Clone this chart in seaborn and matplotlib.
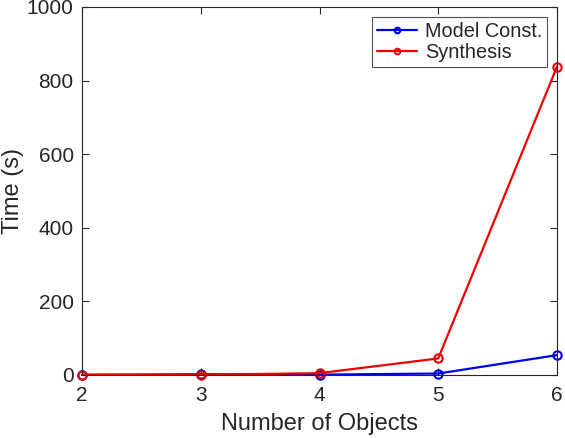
import pandas as pd
import matplotlib.pyplot as plt
from matplotlib.lines import Line2D
import seaborn as sns

objects = [2, 3, 4, 5, 6]
model_const = [0.5, 2, 1, 4, 54]
synthesis = [0.5, 0.5, 5, 45, 838]
methods = ["Model Const.", "Synthesis"]
colors = ["#0000ee", "#ee0000"]

df = pd.DataFrame({
    "Number of Objects": objects * 2,
    "Time (s)": model_const + synthesis,
    "Method": [methods[0]] * 5 + [methods[1]] * 5,
})

sns.set_style("white")
plt.rcParams['font.family'] = ['Liberation Sans', 'DejaVu Sans']

fig = plt.figure(figsize=(5.65, 4.38), dpi=100)
ax = fig.add_axes([82 / 565, 63 / 438, 475 / 565, 368 / 438])

sns.lineplot(data=df, x="Number of Objects", y="Time (s)", hue="Method",
             palette=dict(zip(methods, colors)),
             marker="o", markersize=6, markerfacecolor="none", markeredgewidth=1.5,
             linewidth=1.6, ax=ax, legend=False)
for line, c in zip(ax.lines, colors):
    line.set_markeredgecolor(c)
    line.set_clip_on(False)

ax.set_xlim(2, 6)
ax.set_ylim(0, 1000)
ax.set_xticks(objects)
ax.set_yticks([0, 200, 400, 600, 800, 1000])
ax.tick_params(direction="in", length=5, width=0.8, labelsize=15, colors="#262626",
               top=True, right=True, bottom=True, left=True)
ax.tick_params(axis="x", labeltop=False, pad=8)
ax.tick_params(axis="y", labelright=False, pad=6)
for s in ax.spines.values():
    s.set_color("#262626")
    s.set_linewidth(0.8)
ax.set_xlabel("Number of Objects", fontsize=17, color="#262626", labelpad=6)
ax.set_ylabel("Time (s)", fontsize=17, color="#262626", labelpad=2)

handles = [Line2D([], [], color=c, linewidth=1.6, marker="o", markersize=4,
                  markerfacecolor="none", markeredgewidth=1.5) for c in colors]
leg = ax.legend(handles, methods, loc="upper right", fontsize=14.3, frameon=True,
                fancybox=False, edgecolor="#262626", handlelength=2.0, borderpad=0.25,
                labelspacing=0.1, handletextpad=0.4, borderaxespad=0.5)
leg.get_frame().set_linewidth(0.8)

fig.savefig("out.png", dpi=100)
